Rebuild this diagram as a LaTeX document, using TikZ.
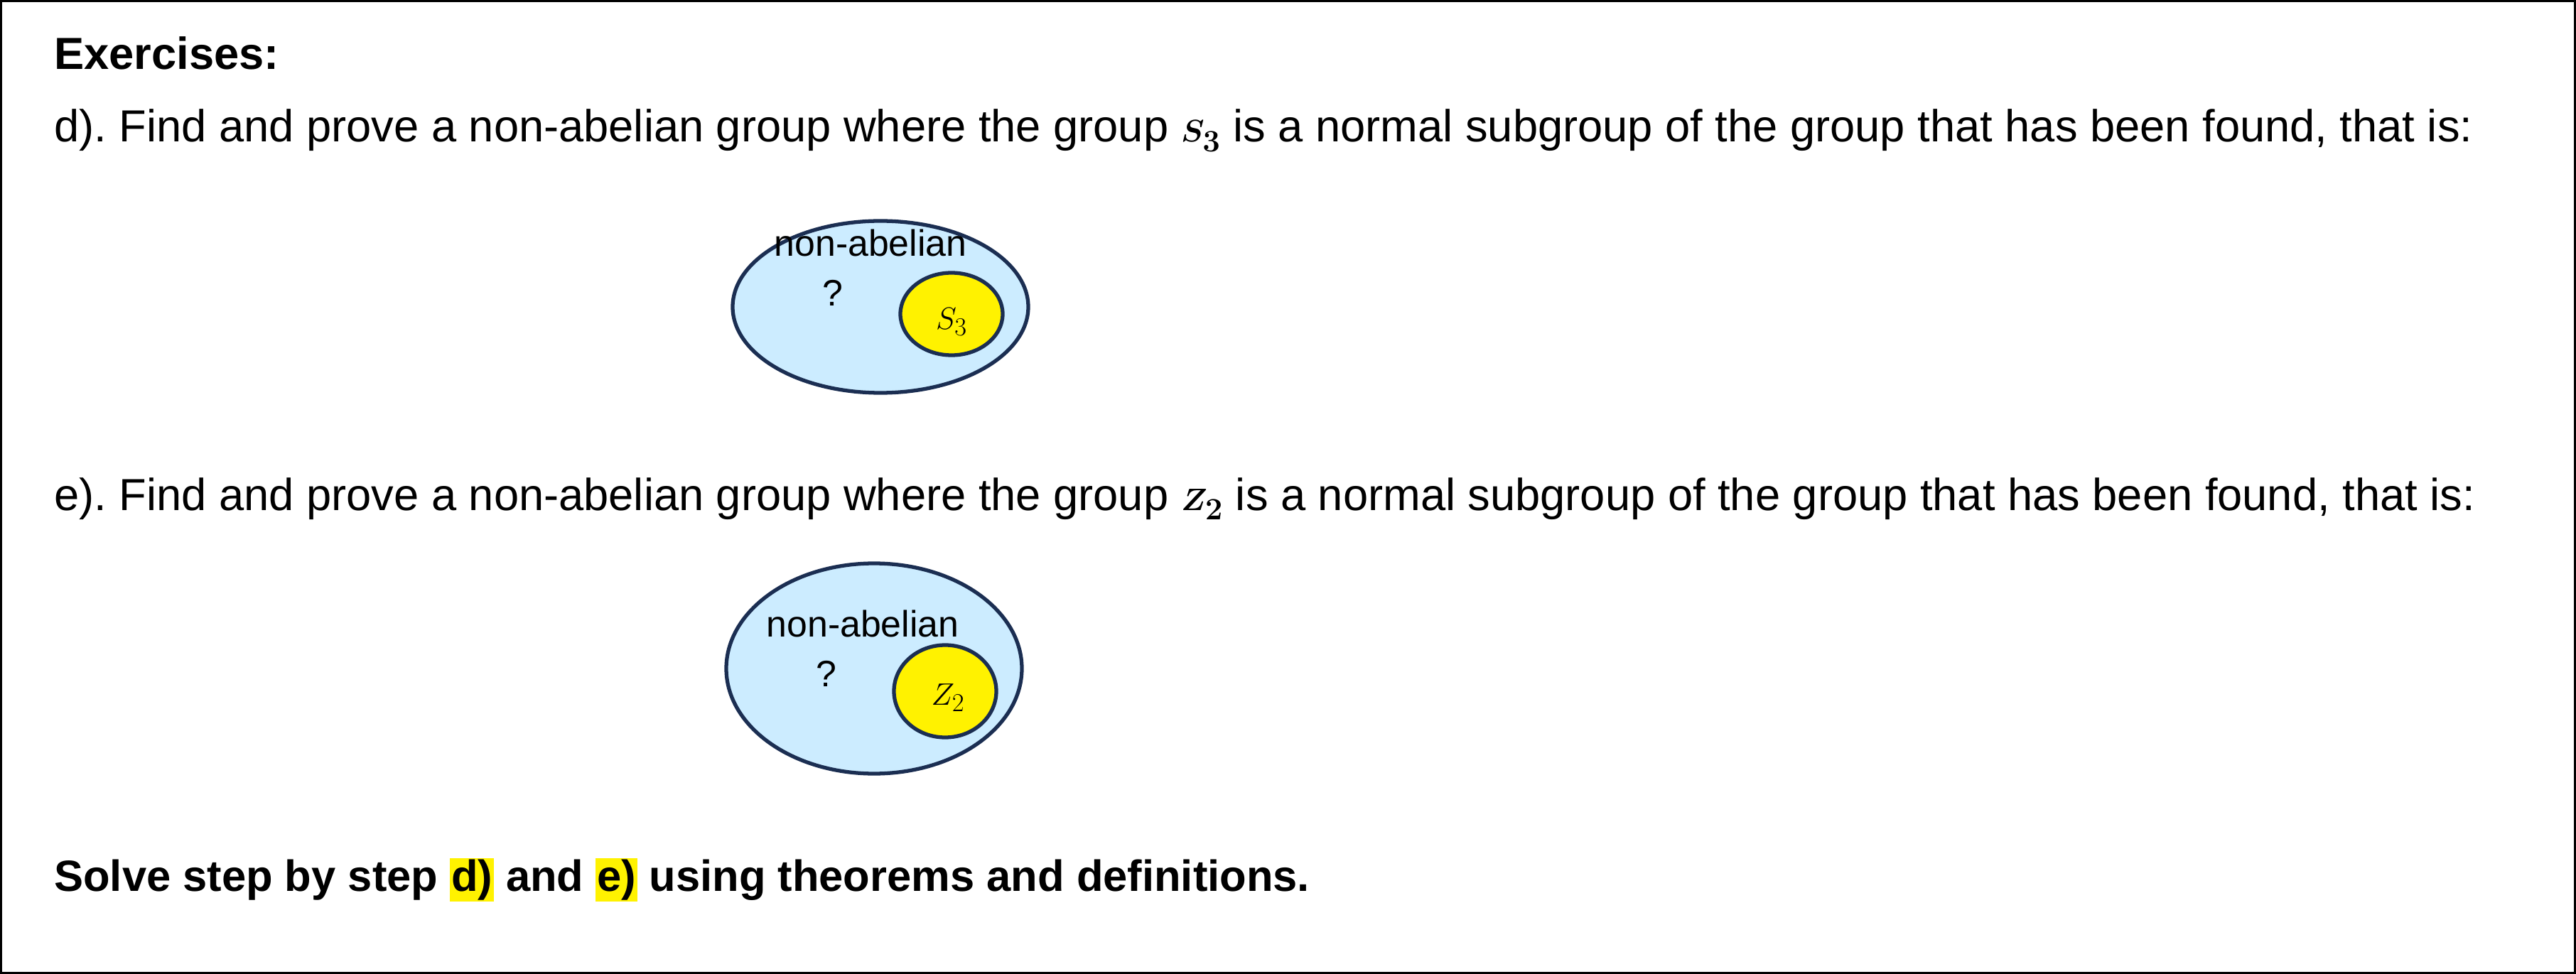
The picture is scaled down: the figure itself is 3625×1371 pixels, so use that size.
\documentclass[tikz,border=0pt]{standalone}
\usepackage{fontspec}
\usepackage{amsmath,bm}
\setmainfont{Liberation Sans}
\definecolor{lblue}{HTML}{CCECFF}
\definecolor{navy}{HTML}{1B2E52}
\begin{document}
\begin{tikzpicture}[x=0.02cm,y=-0.02cm,
  txt/.style={anchor=base west,inner sep=0,font=\fontsize{36}{42}\selectfont\frenchspacing},
  lab/.style={inner sep=0,font=\fontsize{29.5}{35}\selectfont},
  big/.style={draw=navy,line width=3pt,fill=lblue},
  small/.style={draw=navy,line width=3pt,fill=yellow}]
\useasboundingbox (0,0) rectangle (3625,1371);
\draw[line width=2pt] (1,1) rectangle (3624,1370);
\node[txt] (t0) at (76,98) {\textbf{Exercises:}};
\node[txt] (t1) at (76,200) {d). Find and prove a non-abelian group where the group $\bm{S_3}$ is a normal subgroup of the group that has been found, that is:};
\draw[big] (1239,432) ellipse [x radius=208,y radius=121];
\draw[small] (1339,442) ellipse [x radius=72,y radius=58];
\node[lab] (n1) at (1225,342) {non-abelian};
\node[lab] (q1) at (1172,412) {?};
\node[lab] (s1) at (1339,453) {$S_3$};
\node[txt] (t2) at (76,718) {e). Find and prove a non-abelian group where the group $\bm{Z_2}$ is a normal subgroup of the group that has been found, that is:};
\draw[big] (1230,941) ellipse [x radius=208,y radius=148];
\draw[small] (1330,973) ellipse [x radius=72,y radius=65];
\node[lab] (n2) at (1214,878) {non-abelian};
\node[lab] (q2) at (1163,948) {?};
\node[lab] (z2) at (1334,982) {$Z_2$};
\node[txt,font=\fontsize{35}{42}\selectfont] (t3) at (76,1254) {\setlength{\fboxsep}{1pt}\textbf{Solve step by step \colorbox{yellow}{d)} and \colorbox{yellow}{e)} using theorems and definitions.}};
\end{tikzpicture}
\end{document}
